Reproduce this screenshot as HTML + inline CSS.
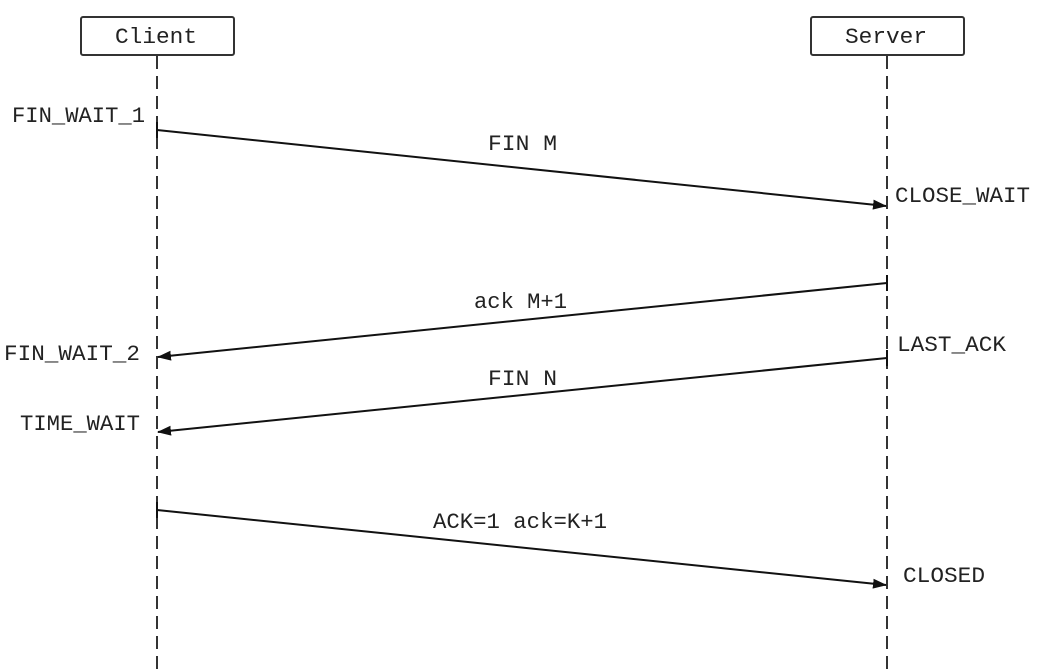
<!DOCTYPE html>
<html><head><meta charset="utf-8"><style>html,body{margin:0;padding:0;background:#fff}svg{display:block}</style></head>
<body>
<svg width="1063" height="670" viewBox="0 0 1063 670" xmlns="http://www.w3.org/2000/svg">
<defs><marker id="a" markerWidth="14" markerHeight="10" refX="13" refY="5" orient="auto" markerUnits="userSpaceOnUse"><path d="M0,0 L14,5 L0,10 z" fill="#111"/></marker></defs>
<g stroke="#333" stroke-width="2" fill="none">
<rect x="81" y="17" width="153" height="38" rx="2"/>
<rect x="811" y="17" width="153" height="38" rx="2"/>
<line x1="157" y1="56" x2="157" y2="670" stroke-dasharray="13,7"/>
<line x1="887" y1="56" x2="887" y2="670" stroke-dasharray="13,7"/>
</g>
<g stroke="#111" stroke-width="2">
<line x1="157" y1="130" x2="886" y2="206" marker-end="url(#a)"/>
<line x1="887" y1="283" x2="158" y2="357" marker-end="url(#a)"/>
<line x1="887" y1="358" x2="158" y2="432" marker-end="url(#a)"/>
<line x1="157" y1="510" x2="886" y2="585" marker-end="url(#a)"/>
<line x1="157" y1="122" x2="157" y2="138"/>
<line x1="887" y1="275" x2="887" y2="291"/>
<line x1="887" y1="350" x2="887" y2="366"/>
<line x1="157" y1="502" x2="157" y2="518"/>
</g>
<g font-family="Liberation Mono, monospace" font-size="22" fill="#222" lengthAdjust="spacingAndGlyphs">
<text x="115" y="43" textLength="82" lengthAdjust="spacingAndGlyphs">Client</text>
<text x="845" y="43" textLength="82" lengthAdjust="spacingAndGlyphs">Server</text>
<text x="12" y="122" textLength="133" lengthAdjust="spacingAndGlyphs">FIN_WAIT_1</text>
<text x="488" y="150" textLength="69" lengthAdjust="spacingAndGlyphs">FIN M</text>
<text x="895" y="202" textLength="135" lengthAdjust="spacingAndGlyphs">CLOSE_WAIT</text>
<text x="474" y="308" textLength="93" lengthAdjust="spacingAndGlyphs">ack M+1</text>
<text x="897" y="351" textLength="109" lengthAdjust="spacingAndGlyphs">LAST_ACK</text>
<text x="4" y="360" textLength="136" lengthAdjust="spacingAndGlyphs">FIN_WAIT_2</text>
<text x="488" y="385" textLength="69" lengthAdjust="spacingAndGlyphs">FIN N</text>
<text x="20" y="430" textLength="120" lengthAdjust="spacingAndGlyphs">TIME_WAIT</text>
<text x="433" y="528" textLength="174" lengthAdjust="spacingAndGlyphs">ACK=1 ack=K+1</text>
<text x="903" y="582" textLength="82" lengthAdjust="spacingAndGlyphs">CLOSED</text>
</g>
</svg>
</body></html>
